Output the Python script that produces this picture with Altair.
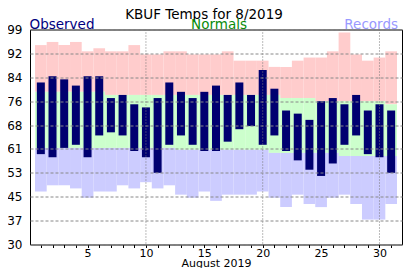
import json
import altair as alt
import pandas as pd

# ---- data ----
days = list(range(1, 32))
obs_high = [82, 84, 83, 81, 84, 84, 77, 78, 75, 74, 77, 82, 79, 77, 79, 81, 78, 82, 78, 86,
            80, 73, 72, 70, 76, 77, 75, 78, 73, 75, 73]
obs_low = [59, 58, 61, 62, 58, 65, 66, 65, 60, 58, 53, 62, 65, 62, 60, 60, 63, 67, 68, 62,
           65, 60, 57, 54, 52, 56, 62, 65, 59, 58, 53]
norm_high = [79, 79, 79, 79, 79, 79, 78, 78, 78, 78, 78, 78, 78, 78, 78, 78, 78, 78, 78, 78,
             78, 77, 77, 77, 76, 76, 76, 76, 76, 76, 75]
norm_low = [61, 61, 61, 61, 61, 61, 61, 61, 61, 61, 61, 61, 60.4, 60.4, 60.4, 60.4, 60.4, 60.4,
            60.4, 60.4, 59.4, 59.4, 59.4, 59.4, 59.4, 59.4, 58.4, 58.4, 58.4, 58.4, 58.4]
rec_high = [94, 95, 94, 95, 92, 93, 92, 92, 94, 91, 91, 92, 92, 91, 91, 91, 92, 89, 89, 89,
            87, 87, 89, 90, 90, 92, 98, 91, 89, 90, 92]
rec_low = [47, 49, 49, 48, 45, 47, 47, 49, 48, 50, 48, 49, 46, 45, 47, 44, 46, 46, 46, 47,
           45, 42, 46, 43, 42, 45, 46, 43, 38, 38, 43]
y_tick_labels = ["30", "37", "45", "53", "61", "68", "76", "84", "92", "99"]
x_grid_days = [10, 20, 30]
y_range = [30, 99]
x_range = [0.5, 31.5]
title_text = "KBUF Temps for 8/2019"
legend_texts = ["Observed", "Normals", "Records"]
x_title = "August 2019"

df = pd.DataFrame({
    "day": days, "obs_high": obs_high, "obs_low": obs_low,
    "norm_high": norm_high, "norm_low": norm_low,
    "rec_high": rec_high, "rec_low": rec_low,
})

W, H = 372, 215
FONT = "DejaVu Sans"
n_ticks = len(y_tick_labels)
step = (y_range[1] - y_range[0]) / (n_ticks - 1)
y_ticks = [round(y_range[0] + step * i, 4) for i in range(n_ticks)]

xs = alt.Scale(domain=x_range, nice=False, zero=False)
ys = alt.Scale(domain=y_range, nice=False, zero=False)

x_axis = alt.Axis(
    values=days, domain=False, tickSize=3, tickColor="black", tickWidth=1,
    labelExpr="datum.value % 5 == 0 ? datum.label : ''",
    labelFont=FONT, labelFontSize=11, labelColor="black", labelPadding=0,
    grid=False,
    title=x_title, titleFont=FONT, titleFontSize=11, titleFontWeight="normal",
    titleColor="black", titleY=21.5, titleBaseline="alphabetic",
)
y_axis = alt.Axis(
    values=y_ticks, domain=False, ticks=False,
    labelExpr=json.dumps(y_tick_labels) + "[round((datum.value - %s) / %s)]" % (y_range[0], round(step, 6)),
    labelFont=FONT, labelFontSize=12, labelColor="black", labelPadding=8,
    grid=True, gridColor="#888888", gridDash=[3, 2], gridWidth=1,
    title=None, zindex=1,
)

def X(field):
    return alt.X(field, scale=xs, axis=x_axis, title=x_title)

def Y(field):
    return alt.Y(field, scale=ys, axis=y_axis, title=None)

base = alt.Chart(df).transform_calculate(x0="datum.day - 0.5", x1="datum.day + 0.5")

rec_hi_band = base.mark_bar(color="#ffcccc").encode(
    x=X("x0:Q"), x2="x1:Q", y=Y("norm_high:Q"), y2="rec_high:Q",
)
norm_band = base.mark_bar(color="#ccffcc").encode(
    x=X("x0:Q"), x2="x1:Q", y=Y("norm_low:Q"), y2="norm_high:Q",
)
rec_lo_band = base.mark_bar(color="#ccccff").encode(
    x=X("x0:Q"), x2="x1:Q", y=Y("rec_low:Q"), y2="norm_low:Q",
)
obs = alt.Chart(df).mark_bar(color="#000070", size=8).encode(
    x=X("day:Q"), y=Y("obs_low:Q"), y2="obs_high:Q",
)
vgrid = alt.Chart(pd.DataFrame({"d": x_grid_days})).mark_rule(
    color="#777777", strokeDash=[1, 2], strokeWidth=1
).encode(x=X("d:Q"))

title = alt.Chart(pd.DataFrame({"t": [title_text]})).mark_text(
    font=FONT, fontSize=13.5, color="black", align="center", baseline="alphabetic"
).encode(text="t:N", x=alt.value(174), y=alt.value(-10.8))

lab_obs = alt.Chart(pd.DataFrame({"t": [legend_texts[0]]})).mark_text(
    font=FONT, fontSize=13.5, color="#000080", align="left", baseline="alphabetic"
).encode(text="t:N", x=alt.value(-0.5), y=alt.value(-0.8))
lab_norm = alt.Chart(pd.DataFrame({"t": [legend_texts[1]]})).mark_text(
    font=FONT, fontSize=13.5, color="#0a8c0a", align="center", baseline="alphabetic"
).encode(text="t:N", x=alt.value(189), y=alt.value(-0.8))
lab_rec = alt.Chart(pd.DataFrame({"t": [legend_texts[2]]})).mark_text(
    font=FONT, fontSize=13.5, color="#9999ff", align="right", baseline="alphabetic"
).encode(text="t:N", x=alt.value(368), y=alt.value(-0.8))

chart = alt.layer(
    rec_hi_band, norm_band, rec_lo_band, obs, vgrid, title, lab_obs, lab_norm, lab_rec
).properties(
    width=W, height=H,
    autosize=alt.AutoSizeParams(type="none"),
    padding={"left": 22, "top": 21.5, "right": 2, "bottom": 23.5},
    background="white",
).configure_view(
    stroke="black", strokeWidth=1
)

chart.save("out.html", embed_options={"renderer": "svg", "actions": False})
